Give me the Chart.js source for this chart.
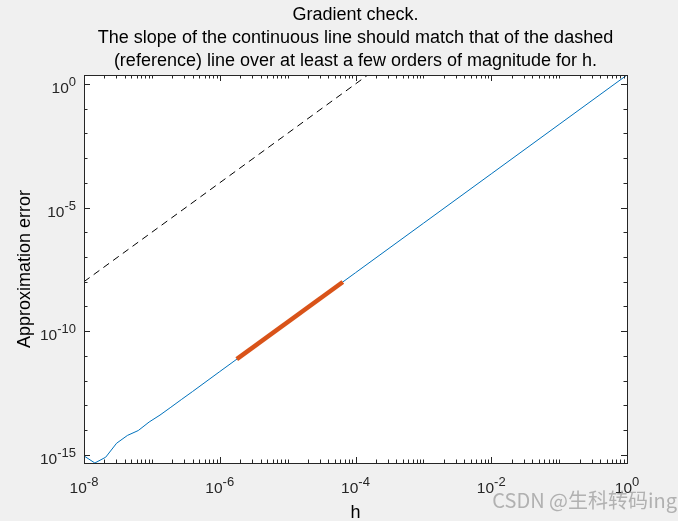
<!DOCTYPE html>
<html><head><meta charset="utf-8">
<script src="https://cdn.jsdelivr.net/npm/chart.js@4.4.0/dist/chart.umd.min.js"></script>
<style>html,body{margin:0;padding:0;background:#f0f0f0;overflow:hidden}#wrap{width:678px;height:521px;position:relative}</style>
</head><body><div id="wrap"><canvas id="c"></canvas></div>
<script>
// ---- text ----
const titleLines = ['Gradient check.',
  'The slope of the continuous line should match that of the dashed',
  '(reference) line over at least a few orders of magnitude for h.'];
const xAxisTitle = 'h';
const yAxisTitle = 'Approximation error';
const watermark = 'CSDN @生科转码ing';

// ---- data ----
const errH    = [1e-8, 1.445e-8, 2.089e-8, 3.02e-8, 4.365e-8, 6.31e-8, 9.12e-8, 1.318e-7, 1.905e-7, 2.754e-7, 3.981e-7, 1e-6, 1e-5, 1e-4, 1e-3, 1e-2, 1e-1, 1];
const errVals = [8.9e-16, 4.6e-16, 7.9e-16, 2.9e-15, 6.0e-15, 9.5e-15, 2.1e-14, 4.0e-14, 8.3e-14, 1.74e-13, 3.6e-13, 2.3e-12, 2.3e-10, 2.3e-8, 2.3e-6, 2.3e-4, 2.3e-2, 2.3];
const refH    = [1e-8, 1e-3];
const refVals = [1e-8, 1e2];
const segH    = [1.78e-6, 6.5e-5];
const segVals = [7.3e-12, 9.7e-9];

// ---- axes ----
const xRange = [1e-8, 1];
const yRange = [4.6e-16, 2.3];
const xLabelExps = [-8, -6, -4, -2, 0];
const yLabelExps = [0, -5, -10, -15];
const xDecades = [-8, -7, -6, -5, -4, -3, -2, -1, 0];
const yDecades = [0, -1, -2, -3, -4, -5, -6, -7, -8, -9, -10, -11, -12, -13, -14, -15];

const toXY = (xs, ys) => xs.map((x, i) => ({x: x, y: ys[i]}));

const AX = '#262626';
const FONT = '"Liberation Sans", Arial, Helvetica, sans-serif';

function drawPow(ctx, exp, x, y, align) {
  ctx.font = '15.5px ' + FONT;
  const wb = ctx.measureText('10').width;
  ctx.font = '13px ' + FONT;
  const es = String(exp);
  const we = ctx.measureText(es).width;
  const total = wb + we;
  let sx = align === 'center' ? x - total / 2 : x - total;
  ctx.textAlign = 'left';
  ctx.textBaseline = 'alphabetic';
  ctx.font = '15.5px ' + FONT;
  ctx.fillText('10', sx, y);
  ctx.font = '13px ' + FONT;
  ctx.fillText(es, sx + wb, y - 7);
}

const matlabAxes = {
  id: 'matlabAxes',
  beforeDraw(chart) {
    const ctx = chart.ctx, a = chart.chartArea;
    ctx.save();
    ctx.fillStyle = '#f0f0f0';
    ctx.fillRect(0, 0, chart.width, chart.height);
    ctx.fillStyle = '#ffffff';
    ctx.fillRect(a.left, a.top, a.right - a.left, a.bottom - a.top);
    ctx.restore();
  },
  afterDraw(chart) {
    const ctx = chart.ctx, a = chart.chartArea;
    const xs = chart.scales.x, ys = chart.scales.y;
    ctx.save();
    ctx.strokeStyle = AX;
    ctx.lineWidth = 1;
    // box
    ctx.strokeRect(Math.round(a.left) + 0.5, Math.round(a.top) + 0.5, Math.round(a.right - a.left), Math.round(a.bottom - a.top));
    // x ticks
    ctx.beginPath();
    xDecades.forEach(d => {
      for (let m = 1; m <= 9; m++) {
        const v = m * Math.pow(10, d);
        if (v < xRange[0] * 0.999 || v > xRange[1] * 1.001) continue;
        const px = Math.round(xs.getPixelForValue(v)) + 0.5;
        const len = (m === 1 && xLabelExps.includes(d)) ? 6 : 3.5;
        ctx.moveTo(px, a.bottom); ctx.lineTo(px, a.bottom - len);
        ctx.moveTo(px, a.top); ctx.lineTo(px, a.top + len);
      }
    });
    // y ticks
    yDecades.forEach(d => {
      const py = Math.round(ys.getPixelForValue(Math.pow(10, d))) + 0.5;
      const len = yLabelExps.includes(d) ? 6 : 3.5;
      ctx.moveTo(a.left, py); ctx.lineTo(a.left + len, py);
      ctx.moveTo(a.right, py); ctx.lineTo(a.right - len, py);
    });
    ctx.stroke();

    // tick labels
    ctx.fillStyle = AX;
    xLabelExps.forEach(d => {
      const px = xs.getPixelForValue(Math.pow(10, d));
      drawPow(ctx, d, px, a.bottom + 30, 'center');
    });
    yLabelExps.forEach(d => {
      const py = ys.getPixelForValue(Math.pow(10, d));
      drawPow(ctx, d, a.left - 8, py + 9, 'right');
    });

    // axis titles
    ctx.fillStyle = '#000';
    ctx.font = '18px ' + FONT;
    ctx.textAlign = 'center';
    ctx.textBaseline = 'alphabetic';
    ctx.fillText(xAxisTitle, (a.left + a.right) / 2, a.bottom + 55);
    ctx.save();
    ctx.translate(30, (a.top + a.bottom) / 2);
    ctx.rotate(-Math.PI / 2);
    ctx.fillText(yAxisTitle, 0, 0);
    ctx.restore();

    // title
    ctx.font = '18px ' + FONT;
    const cx = (a.left + a.right) / 2;
    const bases = [20, 43, 66];
    titleLines.forEach((t, i) => ctx.fillText(t, cx, bases[i]));

    // watermark
    ctx.font = '20px "Noto Sans CJK SC", ' + FONT;
    ctx.textAlign = 'right';
    ctx.fillStyle = 'rgba(150,150,150,0.7)';
    ctx.fillText(watermark, 677, 508);
    ctx.restore();
  }
};

new Chart(document.getElementById('c'), {
  type: 'scatter',
  data: {
    datasets: [
      {label: 'segment', data: toXY(segH, segVals), showLine: true, borderColor: '#D95319', borderWidth: 4.5, pointRadius: 0, order: 0, borderCapStyle: 'butt'},
      {label: 'reference', data: toXY(refH, refVals), showLine: true, borderColor: '#000000', borderWidth: 1, borderDash: [7, 5], pointRadius: 0, order: 1, clip: 0},
      {label: 'error', data: toXY(errH, errVals), showLine: true, borderColor: '#0072BD', borderWidth: 1, pointRadius: 0, order: 2, clip: 0}
    ]
  },
  options: {
    responsive: true,
    maintainAspectRatio: false,
    animation: false,
    devicePixelRatio: 1,
    layout: {padding: {left: 84, right: 51, top: 75, bottom: 58}},
    scales: {
      x: {type: 'logarithmic', min: xRange[0], max: xRange[1], display: false},
      y: {type: 'logarithmic', min: yRange[0], max: yRange[1], display: false}
    },
    plugins: {legend: {display: false}, tooltip: {enabled: false}, title: {display: false}},
    elements: {line: {tension: 0}}
  },
  plugins: [matlabAxes]
});
</script>
</body></html>
